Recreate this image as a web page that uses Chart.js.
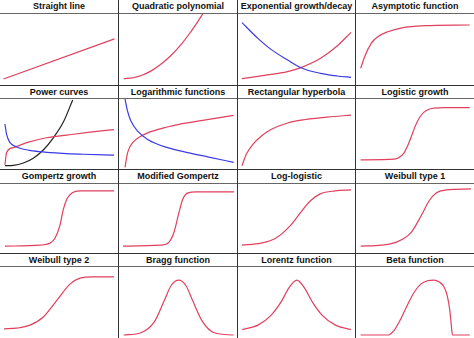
<!DOCTYPE html>
<html><head><meta charset="utf-8">
<script src="https://cdn.jsdelivr.net/npm/chart.js@4/dist/chart.umd.min.js"></script>
<style>
html,body{margin:0;padding:0;background:#fff;}
#wrap{position:relative;width:474px;height:338px;overflow:hidden;background:#fff;}
.t{position:absolute;text-align:center;font:bold 9px "Liberation Sans",Arial,sans-serif;color:#111;white-space:nowrap;}
.c{position:absolute;}
.v{position:absolute;top:0;width:1px;height:338px;background:#333;}
.h{position:absolute;left:0;width:474px;height:1px;background:#333;}
.tl{position:absolute;height:1px;background:#666;}
</style></head><body><div id="wrap"></div>
<script>
// ---- titles ----
const titles = ["Straight line","Quadratic polynomial","Exponential growth/decay","Asymptotic function",
"Power curves","Logarithmic functions","Rectangular hyperbola","Logistic growth",
"Gompertz growth","Modified Gompertz","Log-logistic","Weibull type 1",
"Weibull type 2","Bragg function","Lorentz function","Beta function"];

// ---- data (x and y in percent of each panel) ----
const straightX = [3, 97];
const straightY = [8.5, 65];
const quadX = [4, 12, 20, 28, 36, 44, 52, 60, 68, 72];
const quadY = [8.9, 10.2, 14.1, 20.6, 29.8, 41.5, 55.9, 72.9, 92.5, 103];
const expDecayX = [3.4, 17, 28.2, 42.4, 53.7, 70.6, 84.7, 96.6];
const expDecayY = [87.8, 65.7, 50.2, 35.2, 24.4, 16.4, 12.7, 10.8];
const expGrowX = [3.4, 22.6, 42.4, 53.7, 70.6, 84.7, 96.6];
const expGrowY = [8.9, 13.6, 18.8, 24.4, 37.6, 54.9, 74.2];
const asymX = [4, 7.3, 12.9, 18.5, 26.9, 40.9, 57.7, 96.4];
const asymY = [23.5, 39.9, 58.7, 68, 75, 81.2, 83.5, 84.5];
const powBlackX = [4.2, 11.3, 19.8, 28.2, 36.7, 45.2, 53.7, 61.6];
const powBlackY = [4.7, 5.2, 8.5, 15.5, 27.2, 44.6, 67.1, 98.6];
const powRedX = [4.2, 5.6, 11.3, 22.6, 39.5, 56.5, 76.3, 96.6];
const powRedY = [6.1, 23.5, 30.5, 37.6, 44.6, 48.4, 52.6, 56.3];
const powBlueX = [4.2, 5.6, 8.5, 14.1, 28.2, 42.4, 70.6, 96.6];
const powBlueY = [64.3, 49.3, 37.6, 31.5, 25.8, 23.5, 21.1, 19.7];
const logBlueX = [5.1, 7.3, 10.2, 15.8, 24.3, 41.2, 58.2, 75.1, 97.2];
const logBlueY = [100, 82.2, 68.1, 54, 42.3, 30.5, 23.5, 17.4, 9.4];
const logRedX = [5.1, 7.3, 11.6, 18.6, 29.9, 46.9, 69.5, 97.2];
const logRedY = [2.3, 23.5, 37.6, 46.9, 54.9, 62.4, 69, 76.5];
const hypX = [3.4, 7.1, 12.7, 19.8, 28.2, 42.4, 56.5, 76.3, 96.6];
const hypY = [4.7, 21.1, 35.2, 46.9, 56.3, 65.7, 70.4, 74.2, 77];
const logisticX = [3.9, 32.5, 36.4, 40.9, 43.7, 46.5, 49.3, 52.1, 54.9, 57.7, 61.9, 66.1, 74.5, 96.4];
const logisticY = [13.1, 14.1, 16.4, 23.5, 32.9, 44.6, 57.3, 68.1, 76.1, 81.2, 85.4, 86.9, 87.8, 87.8];
const gompX = [4.2, 33.9, 42.4, 46.6, 50.8, 53.4, 56.8, 61, 67.8, 96.6];
const gompY = [10, 11.4, 14.3, 21.4, 40, 61.4, 78.6, 87.1, 90, 90];
const modGompX = [3.4, 35.6, 42.4, 46.6, 50.8, 54.2, 58.5, 65.3, 97.5];
const modGompY = [10, 11.4, 15.7, 30, 58.6, 78.6, 87.1, 88.6, 88.6];
const logLogX = [3.4, 19.5, 32.2, 44.9, 53.4, 61.9, 70.3, 83, 96.6];
const logLogY = [11.4, 14.3, 21.4, 40, 58.6, 75.7, 85.7, 90, 91.4];
const weib1X = [3.9, 21.6, 34.2, 46.8, 55.3, 62, 67.9, 76.4, 97.4];
const weib1Y = [10, 11.4, 15.7, 30, 54.3, 75.7, 87.1, 91.4, 92.9];
const weib2X = [3.4, 14.1, 25.4, 36.7, 48, 59.3, 67.8, 79.1, 96.6];
const weib2Y = [12.9, 13.9, 18.1, 29.6, 52.8, 75.9, 84.3, 86.1, 86.1];
const braggX = [4, 18.6, 29.9, 38.4, 44.1, 50.6, 56.8, 62.4, 70.9, 80.8, 97.2];
const braggY = [4.2, 7.4, 22.7, 52.8, 73.6, 81.5, 73.6, 52.8, 22.7, 7.4, 4.2];
const lorentzX = [3.4, 17, 28.2, 36.7, 43.8, 50.3, 56.5, 63.6, 72, 83.3, 96.6];
const lorentzY = [12, 18.1, 31.9, 50.5, 71.3, 81.5, 71.3, 50.5, 31.9, 18.1, 12];
const betaX = [3.9, 26.9, 28.3, 32.5, 38.1, 43.7, 49.3, 54.9, 60.5, 66.1, 70.3, 74.5, 77.3, 79.5, 80.9, 81.8, 96.4];
const betaY = [4.2, 4.2, 4.6, 11.1, 27.3, 46.8, 64.4, 75.9, 80.6, 81.5, 79.2, 72.2, 59.7, 38.9, 15.7, 4.2, 4.2];

const RED = "#e0405e", BLUE = "#3b3be6", BLACK = "#222222";
const panels = [
  [[straightX, straightY, RED]],
  [[quadX, quadY, RED]],
  [[expDecayX, expDecayY, BLUE], [expGrowX, expGrowY, RED]],
  [[asymX, asymY, RED]],
  [[powBlueX, powBlueY, BLUE], [powRedX, powRedY, RED], [powBlackX, powBlackY, BLACK]],
  [[logBlueX, logBlueY, BLUE], [logRedX, logRedY, RED]],
  [[hypX, hypY, RED]],
  [[logisticX, logisticY, RED]],
  [[gompX, gompY, RED]],
  [[modGompX, modGompY, RED]],
  [[logLogX, logLogY, RED]],
  [[weib1X, weib1Y, RED]],
  [[weib2X, weib2Y, RED]],
  [[braggX, braggY, RED]],
  [[lorentzX, lorentzY, RED]],
  [[betaX, betaY, RED]]
];

// ---- layout ----
const colL = [0, 119, 238, 356], colW = [118, 118, 117, 118];
const rowT = [0, 86, 170, 254], titleH = [13, 12, 13, 12], rowB = [85, 169, 253, 338];
const wrap = document.getElementById('wrap');

panels.forEach((series, i) => {
  const r = Math.floor(i / 4), c = i % 4;
  const t = document.createElement('div');
  t.className = 't';
  t.style.left = colL[c] + 'px'; t.style.width = colW[c] + 'px';
  t.style.top = rowT[r] + 'px'; t.style.height = titleH[r] + 'px'; t.style.lineHeight = titleH[r] + 'px';
  t.textContent = titles[i];
  wrap.appendChild(t);
  const tl = document.createElement('div');
  tl.className = 'tl';
  tl.style.left = colL[c] + 'px'; tl.style.width = colW[c] + 'px';
  tl.style.top = (rowT[r] + titleH[r]) + 'px';
  wrap.appendChild(tl);
  const top = rowT[r] + titleH[r] + 1, h = rowB[r] - top;
  const box = document.createElement('div');
  box.className = 'c';
  box.style.left = colL[c] + 'px'; box.style.top = top + 'px';
  box.style.width = colW[c] + 'px'; box.style.height = h + 'px';
  const cv = document.createElement('canvas');
  box.appendChild(cv);
  wrap.appendChild(box);
  new Chart(cv, {
    type: 'line',
    data: {
      datasets: series.map(([xs, ys, col]) => ({
        data: xs.map((x, k) => ({x: x, y: ys[k]})),
        borderColor: col, borderWidth: 1.2, pointRadius: 0, fill: false,
        cubicInterpolationMode: 'monotone'
      }))
    },
    options: {
      responsive: true, maintainAspectRatio: false, animation: false,
      layout: {padding: 0},
      plugins: {legend: {display: false}, tooltip: {enabled: false}, title: {display: false}},
      scales: {
        x: {type: 'linear', min: 0, max: 100, display: false},
        y: {type: 'linear', min: 0, max: 100, display: false}
      }
    }
  });
});

[118, 237, 355].forEach(x => { const d = document.createElement('div'); d.className = 'v'; d.style.left = x + 'px'; wrap.appendChild(d); });
[85, 169, 253].forEach(y => { const d = document.createElement('div'); d.className = 'h'; d.style.top = y + 'px'; wrap.appendChild(d); });
</script></body></html>
